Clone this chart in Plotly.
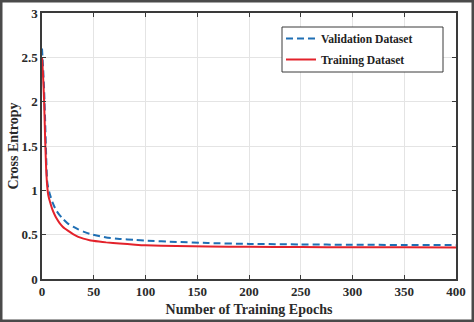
import plotly.graph_objects as go

epochs_val = [0, 1, 2, 3, 4, 5, 6, 7, 8, 10, 12, 14, 17, 20, 25, 30, 35, 40, 46, 55, 62, 75, 90, 100, 130, 160, 200, 250, 300, 350, 400]
validation = [2.6, 2.4, 2.15, 1.8, 1.4, 1.1, 1.03, 0.98, 0.94, 0.87, 0.815, 0.77, 0.72, 0.68, 0.625, 0.59, 0.56, 0.535, 0.51, 0.485, 0.468, 0.452, 0.44, 0.434, 0.418, 0.406, 0.396, 0.39, 0.386, 0.384, 0.382]

epochs_tr = [0, 1, 2, 3, 4, 5, 6, 7, 8, 9, 10, 12, 14, 17, 20, 22, 25, 30, 35, 40, 46, 55, 62, 75, 90, 100, 130, 160, 200, 250, 300, 350, 400]
training = [2.5, 2.3, 2.02, 1.6, 1.25, 1.05, 0.95, 0.9, 0.86, 0.82, 0.785, 0.73, 0.684, 0.63, 0.59, 0.57, 0.545, 0.505, 0.475, 0.455, 0.438, 0.423, 0.413, 0.4, 0.387, 0.38, 0.372, 0.367, 0.363, 0.36, 0.358, 0.357, 0.356]

x_ticks = [0, 50, 100, 150, 200, 250, 300, 350, 400]
y_ticks = [0, 0.5, 1, 1.5, 2, 2.5, 3]

FONT = "Liberation Serif"

fig = go.Figure()
fig.add_trace(go.Scatter(
    x=epochs_val, y=validation, mode="lines", name="<b>Validation Dataset</b>",
    legendgroup="val",
    line=dict(color="#1f6fb4", width=2, dash="7px,4px", shape="spline", smoothing=0.5),
))
fig.add_trace(go.Scatter(
    x=epochs_tr, y=training, mode="lines", name="<b>Training Dataset</b>",
    legendgroup="tr",
    line=dict(color="#e3222b", width=2, shape="spline", smoothing=0.5),
))

L, R, T, B = 42, 18, 13, 43
PW, PH = 474 - L - R, 322 - T - B

axis_common = dict(
    showline=True, linecolor="#3a3a3a", linewidth=1.5, mirror="ticks",
    ticks="inside", ticklen=4, tickcolor="#3a3a3a", tickwidth=1,
    showgrid=True, gridcolor="#e4e4e4", gridwidth=1, zeroline=False,
    tickfont=dict(family=FONT, size=13, color="#2a2a2a"),
)

fig.update_layout(
    width=474, height=322,
    margin=dict(l=L, r=R, t=T, b=B, autoexpand=False),
    paper_bgcolor="white", plot_bgcolor="white",
    showlegend=True,
    legend=dict(
        x=(281 - L) / PW, y=(279 - 24) / PH, xanchor="left", yanchor="top",
        bgcolor="rgba(0,0,0,0)", borderwidth=0,
        font=dict(family=FONT, size=11.6, color="#222222"),
        tracegroupgap=2, itemwidth=30,
    ),
    xaxis=dict(
        range=[0, 400], tickmode="array", tickvals=x_ticks,
        ticktext=[f"<b>{t}</b>" for t in x_ticks],
        title=dict(text="<b>Number of Training Epochs</b>", standoff=6,
                   font=dict(family=FONT, size=14, color="#2a2a2a")),
        automargin=False, **axis_common,
    ),
    yaxis=dict(
        range=[0, 3], tickmode="array", tickvals=y_ticks,
        ticktext=[f"<b>{t}</b>" for t in y_ticks],
        title=dict(text="<b>Cross Entropy</b>", standoff=0,
                   font=dict(family=FONT, size=14, color="#2a2a2a")),
        automargin=False, **axis_common,
    ),
    shapes=[
        # legend box
        dict(type="rect", xref="paper", yref="paper",
             x0=(282 - L) / PW, x1=(443 - L) / PW,
             y0=(279 - 72) / PH, y1=(279 - 27) / PH,
             line=dict(color="#3a3a3a", width=1), fillcolor="white", layer="above"),
        # outer image frame
        dict(type="rect", xref="paper", yref="paper",
             x0=-L / PW, x1=1 + R / PW, y0=-B / PH, y1=1 + T / PH,
             line=dict(color="#4a4a4a", width=5), fillcolor="rgba(0,0,0,0)", layer="above"),
    ],
)

fig.write_html("out.html")
